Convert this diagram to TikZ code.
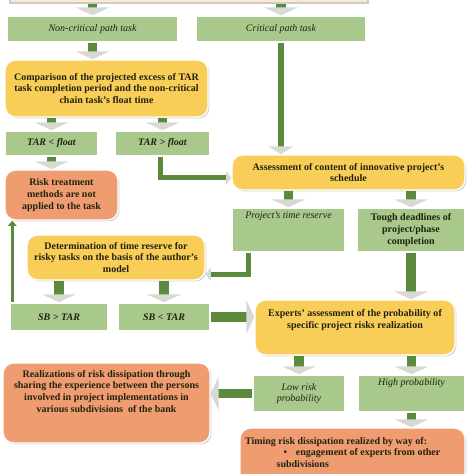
\documentclass[tikz,border=0pt]{standalone}
\usepackage{fontspec}
\setmainfont{Liberation Serif}
\usetikzlibrary{arrows.meta,shadows}

\definecolor{boxgreen}{HTML}{A9C98C}
\definecolor{boxyellow}{HTML}{F8CD58}
\definecolor{boxorange}{HTML}{EE9C70}
\definecolor{boxcream}{HTML}{FAEBC8}
\definecolor{arrowgreen}{HTML}{5B8A3C}
\definecolor{headgrey}{HTML}{D6DAD2}
\definecolor{textdark}{HTML}{222210}

\newlength\unitpx
\setlength\unitpx{0.02cm}

\tikzset{
  base/.style={draw=white, line width=0.8pt, inner sep=0pt, align=center,
    text=textdark, font=\fontsize{5.7}{6.6}\selectfont\bfseries,
    drop shadow={shadow xshift=0.8pt, shadow yshift=-0.8pt, opacity=0.35}},
  greenbox/.style={base, fill=boxgreen, font=\fontsize{5.7}{6.6}\selectfont\itshape},
  boldgreen/.style={greenbox, font=\fontsize{5.7}{6.6}\selectfont\bfseries\itshape},
  yellowbox/.style={base, fill=boxyellow, rounded corners=6pt},
  orangebox/.style={base, fill=boxorange, rounded corners=6pt},
  wh/.style 2 args={minimum width=#1*0.02cm, minimum height=#2*0.02cm},
  flow/.style={draw=arrowgreen, line width=5.5pt,
    -{Triangle[width=19pt,length=4.5pt,color=headgrey]}},
  longflow/.style={draw=arrowgreen, line width=3.4pt,
    -{Triangle[width=14pt,length=4.5pt,color=headgrey]}},
  elbow/.style={draw=arrowgreen, line width=2.8pt,
    -{Triangle[width=8pt,length=3pt,color=headgrey]}},
  thinflow/.style={draw=arrowgreen, line width=1.6pt,
    -{Triangle[width=5pt,length=3pt,color=arrowgreen]}}
}

\begin{document}
\begin{tikzpicture}[x=0.02cm, y=-0.02cm]
\useasboundingbox (0,0) rectangle (474,474);

% Upper part
% Task classification
  \node[base, fill=boxcream, draw=gray!40, wh={358}{13}] (top) at (189,-3.5) {};
  \node[greenbox, wh={171}{26}] (noncrit) at (92.5,29) {Non-critical path task};
  \node[greenbox, wh={170}{26}] (crit) at (281,29) {Critical path task};

  \node[yellowbox, wh={203}{57}] (compar) at (106.5,88.5)
    {Comparison of the projected excess of TAR\\
     task completion period and the non-critical\\
     chain task's float time};
  \node[boldgreen, wh={93}{25}] (tarlt) at (51.5,143.5) {TAR < float};
  \node[boldgreen, wh={95}{25}] (targt) at (162.5,143.5) {TAR > float};
  \node[orangebox, wh={113}{50}] (risk) at (61.5,195)
    {Risk treatment\\ methods are not\\ applied\ to the task};

% Middle part
% Schedule assessment and time reserve
  \node[yellowbox, wh={233}{35}] (assess) at (348.5,172.5)
    {Assessment of content of innovative project's\\ schedule};
  \node[greenbox, wh={113}{44}] (reserve) at (288.5,230)
    {\parbox[c][40\unitpx][t]{110\unitpx}{\centering\vspace{1pt}Project's time reserve}};
  \node[greenbox, font=\fontsize{5.7}{6.6}\selectfont\bfseries, wh={108}{44}] (tough) at (411,230)
    {Tough deadlines of\\ project/phase\\ completion};
  \node[yellowbox, wh={178}{45}] (determ) at (116,257.5)
    {Determination of time reserve for\\
     risky tasks on the basis of the author's\\ model};
  \node[boldgreen, wh={98}{28}] (sbgt) at (59,317) {SB > TAR};
  \node[boldgreen, wh={92}{28}] (sblt) at (164,317) {SB < TAR};

% Lower part
% Experts' assessment and risk dissipation
  \node[yellowbox, wh={200}{55}] (experts) at (355,327.5)
    {\parbox[c][50\unitpx][t]{196\unitpx}{\centering\vspace{4pt}Experts' assessment of the probability of\\
     specific project risks realization}};
  \node[greenbox, wh={92}{37}] (low) at (299,393.5) {Low risk\\ probability};
  \node[greenbox, wh={107}{37}] (high) at (411.5,393.5)
    {\parbox[c][34\unitpx][t]{104\unitpx}{\centering\vspace{1pt}High probability}};
  \node[orangebox, wh={207}{80}] (realiz) at (106.5,403)
    {\parbox[c][76\unitpx][t]{204\unitpx}{\centering\vspace{3pt}Realizations of risk dissipation through\\
     sharing the experience between the persons\\
     involved in project implementations in\\
     various subdivisions\ \ of the bank}};
  \node[orangebox, wh={225}{62}] (timing) at (352.5,459)
    {\parbox[c][58\unitpx][t]{215\unitpx}{\raggedright\vspace{4pt}Timing risk dissipation\ realized by way of:\\
     \hspace*{22pt}\textbullet\hspace{5pt}engagement of experts from other\\
     \hspace*{18pt}subdivisions}};

% Connectors
  \draw[flow] (noncrit.north |- top.south) -- (noncrit.north);
  \draw[flow] (crit.north |- top.south) -- (crit.north);
  \draw[flow] (noncrit.south) -- (noncrit.south |- compar.north);
  \draw[flow] (tarlt.north |- compar.south) -- (tarlt.north);
  \draw[flow] (targt.north |- compar.south) -- (targt.north);
  \draw[flow] (tarlt.south) -- (tarlt.south |- risk.north);
  \draw[longflow] (crit.south) -- (crit.south |- assess.north);
  \draw[elbow] ([xshift=-1pt]targt.south) |- ([yshift=-3pt]assess.west);
  \draw[flow] (reserve.north |- assess.south) -- (reserve.north);
  \draw[flow] (tough.north |- assess.south) -- (tough.north);
  \draw[flow] (tough.south) -- (tough.south |- experts.north);
  \draw[elbow] ([xshift=10pt]reserve.south west) |- ([yshift=-9.5pt]determ.east);
  \draw[thinflow] ([xshift=1.7pt]sbgt.north west) -- ([xshift=1.7pt]sbgt.north west |- risk.south);
  \draw[flow] (sbgt.north |- determ.south) -- (sbgt.north);
  \draw[flow] (sblt.north |- determ.south) -- (sblt.north);
  \draw[flow] (sblt.east) -- (sblt.east -| experts.west);
  \draw[flow] (low.north |- experts.south) -- (low.north);
  \draw[flow] (high.north |- experts.south) -- (high.north);
  \draw[flow] (low.west) -- (low.west -| realiz.east);
  \draw[flow] (high.south) -- (high.south |- timing.north);
\end{tikzpicture}
\end{document}
